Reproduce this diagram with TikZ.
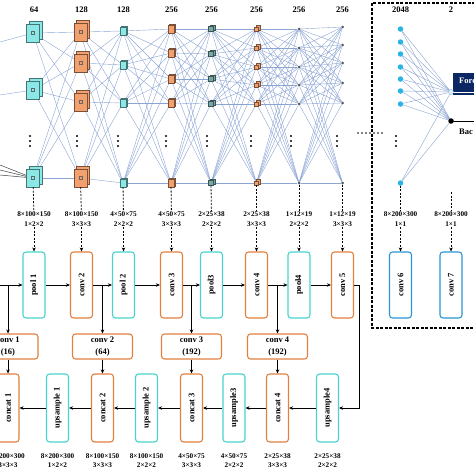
\documentclass[tikz,border=0pt]{standalone}
\usepackage{fontspec}
\setmainfont{Liberation Serif}
\usetikzlibrary{
    calc,
    positioning,
    shadows,
    arrows.meta,
    backgrounds,
}

\definecolor{boxorange}{RGB}{226,128,62}
\definecolor{boxcyan}{RGB}{72,212,206}
\definecolor{boxblue}{RGB}{40,150,212}
\definecolor{cubecyan}{RGB}{138,232,230}
\definecolor{cubeorange}{RGB}{242,160,110}
\definecolor{cubeteal}{RGB}{120,168,168}
\definecolor{linkblue}{RGB}{140,164,212}
\definecolor{dotblue}{RGB}{40,180,230}
\definecolor{dotgray}{RGB}{85,90,95}
\definecolor{navy}{RGB}{12,40,100}

\tikzset{
    cube/.style={draw=#1!50!black, fill=#1, line width=0.3pt, inner sep=0pt,
        copy shadow={shadow xshift=2.5pt, shadow yshift=2.5pt}},
    minicube/.style={draw=#1!50!black, fill=#1, line width=0.3pt, inner sep=0pt,
        copy shadow={shadow xshift=1.2pt, shadow yshift=1.2pt}},
    cubemark/.style={path picture={\draw[line width=0.2pt, draw=black!60]
        ([shift={(-1.5pt,-1.5pt)}]path picture bounding box.center) rectangle
        ([shift={(1.5pt,1.5pt)}]path picture bounding box.center);}},
    unit/.style={circle, fill=#1, inner sep=0pt},
    link/.style={draw=linkblue, line width=0.4pt},
    arr/.style={draw=black, line width=0.8pt, -{Stealth[length=4pt,width=3.5pt]}},
    dasharr/.style={draw=black, line width=0.8pt, dash pattern=on 2pt off 1.5pt,
        -{Stealth[length=4pt,width=3.5pt]}},
    dashln/.style={draw=black, line width=0.8pt, dash pattern=on 2pt off 1.5pt},
    netbox/.style={draw=#1, line width=1.1pt, rounded corners=3pt, fill=white,
        rotate=90, minimum width=66pt, minimum height=22pt, inner sep=0pt,
        font=\fontsize{8.5}{10}\selectfont\bfseries},
    convbox/.style={draw=boxorange, line width=1.1pt, rounded corners=3pt, fill=white,
        minimum width=60pt, minimum height=25pt, inner sep=0pt, align=center,
        font=\fontsize{8.5}{11.5}\selectfont\bfseries},
    dimlab/.style={align=center, inner sep=1pt, font=\fontsize{7.2}{9.3}\selectfont\bfseries},
    head/.style={inner sep=0pt, font=\fontsize{8.5}{10}\selectfont\bfseries},
}

\begin{document}
\begin{tikzpicture}[x=1pt, y=-1pt]
    \useasboundingbox (0,0) rectangle (474,474);
    \clip (0,0) rectangle (474,474);

    % channel numbers
    \node[head] (h1) at (34,10) {64};
    \node[head] (h2) at (81.5,10) {128};
    \node[head] (h3) at (123.5,10) {128};
    \node[head] (h4) at (171.5,10) {256};
    \node[head] (h5) at (211.5,10) {256};
    \node[head] (h6) at (256.5,10) {256};
    \node[head] (h7) at (299,10) {256};
    \node[head] (h8) at (342.5,10) {256};
    \node[head] (h9) at (400.5,10) {2048};
    \node[head] (h10) at (451,10) {2};

    % feature maps
    \foreach \y [count=\i] in {33,90,178}
        \node[cube=cubecyan, cubemark, minimum width=13pt, minimum height=18pt] (a\i) at (33,\y) {};
    \foreach \y [count=\i] in {32,63,102,178}
        \node[cube=cubeorange, cubemark, minimum width=13pt, minimum height=18pt] (b\i) at (80.5,\y) {};
    \foreach \y [count=\i] in {31,65,103,183}
        \node[minicube=cubecyan, minimum width=6pt, minimum height=8pt] (c\i) at (123,\y) {};
    \foreach \y [count=\i] in {29,53,79,103,183}
        \node[minicube=cubeorange, minimum width=6pt, minimum height=8pt] (d\i) at (171,\y) {};
    \foreach \y [count=\i] in {29,54,79,104,183}
        \node[minicube=cubeteal, minimum width=5pt, minimum height=5pt] (e\i) at (211,\y) {};
    \foreach \y [count=\i] in {29,48,67,85,104,183}
        \node[minicube=cubeorange, minimum width=4pt, minimum height=4.5pt] (f\i) at (256.5,\y) {};
    \foreach \y [count=\i] in {29,48,67,85,104,183}
        \node[unit=dotgray, minimum size=3pt] (g\i) at (299,\y) {};
    \foreach \y [count=\i] in {27,45,63,83,103,183}
        \node[unit=dotgray, minimum size=3pt] (h\i) at (342.5,\y) {};
    \foreach \y [count=\i] in {29,42,54,67,79,91,104,183}
        \node[unit=dotblue, minimum size=5.5pt] (k\i) at (400.5,\y) {};

    % output
    \node[fill=navy, minimum width=30pt, minimum height=22pt, inner sep=0pt, anchor=west] (fore) at (453,84) {};
    \node[head, anchor=west, text=white] (foretxt) at (459,81) {Fore};
    \coordinate (foreend) at (480,92);
    \coordinate (backend) at (480,121);
    \draw[white, line width=0.8pt] (451,92) -- (foreend);
    \draw[black, line width=0.9pt] (451,121) -- (backend);
    \node[unit=cyan!15, draw=linkblue, line width=0.3pt, minimum size=5pt] (outF) at (451,92) {};
    \node[unit=black, minimum size=5.5pt] (outB) at (451,121) {};
    \node[head, anchor=west] (backtxt) at (459,132) {Bac};

    % inputs
    \coordinate (in1) at (0,42);
    \coordinate (in2) at (0,95);
    \coordinate (in3) at (0,165);
    \coordinate (in4) at (0,170);
    \coordinate (in5) at (0,175);

    \begin{scope}[on background layer]
        \draw[link] (in1) -- (a1);
        \draw[link] (in2) -- (a2);
        \foreach \s in {in3,in4,in5}
            \draw[black!75, line width=0.5pt] (\s) -- (a3);
        \foreach \i in {1,...,3} \foreach \j in {1,...,4} \draw[link] (a\i) -- (b\j);
        \foreach \i in {1,...,4} \foreach \j in {1,...,4} \draw[link] (b\i) -- (c\j);
        \foreach \i in {1,...,4} \foreach \j in {1,...,5} \draw[link] (c\i) -- (d\j);
        \foreach \i in {1,...,5} \foreach \j in {1,...,5} \draw[link] (d\i) -- (e\j);
        \foreach \i in {1,...,5} \foreach \j in {1,...,6} \draw[link] (e\i) -- (f\j);
        \foreach \i in {1,...,6} \foreach \j in {1,...,6} \draw[link] (f\i) -- (g\j);
        \foreach \i in {1,...,6} \foreach \j in {1,...,6} \draw[link] (g\i) -- (h\j);
        \foreach \i in {1,...,8} \foreach \j in {outF,outB} \draw[link] (k\i) -- (\j);
    \end{scope}

    % ellipses
    \foreach \x in {30,77,118,166,207,251,291,337,396}
        \foreach \y in {136,141,146}
            \fill (\x,\y) circle (1.2pt);
    \foreach \x in {358,362,...,382}
        \fill (\x,133) circle (0.8pt);

    % head frame
    \draw[line width=1.2pt, dash pattern=on 3pt off 1.5pt] (372,3) rectangle (490,328);

    % sizes under the network
    \node[dimlab] (la0) at (-17,214) {8×200×300};
    \node[dimlab] (la1) at (34,219) {8×100×150\\1×2×2};
    \node[dimlab] (la2) at (81.5,219) {8×100×150\\3×3×3};
    \node[dimlab] (la3) at (123.5,219) {4×50×75\\2×2×2};
    \node[dimlab] (la4) at (171.5,219) {4×50×75\\3×3×3};
    \node[dimlab] (la5) at (211.5,219) {2×25×38\\2×2×2};
    \node[dimlab] (la6) at (256.5,219) {2×25×38\\3×3×3};
    \node[dimlab] (la7) at (299,219) {1×12×19\\2×2×2};
    \node[dimlab] (la8) at (342.5,219) {1×12×19\\3×3×3};
    \node[dimlab] (la9) at (400.5,219) {8×200×300\\1×1};
    \node[dimlab] (la10) at (451,219) {8×200×300\\1×1};

    % encoder
    \node[netbox=boxcyan] (pool1) at (34,285) {pool 1};
    \node[netbox=boxorange] (conv2) at (81.5,285) {conv 2};
    \node[netbox=boxcyan] (pool2) at (123.5,285) {pool 2};
    \node[netbox=boxorange] (conv3) at (171.5,285) {conv 3};
    \node[netbox=boxcyan] (pool3) at (211.5,285) {pool3};
    \node[netbox=boxorange] (conv4) at (256.5,285) {conv 4};
    \node[netbox=boxcyan] (pool4) at (299,285) {pool4};
    \node[netbox=boxorange] (conv5) at (342.5,285) {conv 5};
    \node[netbox=boxblue] (conv6) at (400.5,285) {conv 6};
    \node[netbox=boxblue] (conv7) at (451,285) {conv 7};

    \draw[dashln] (a3) -- (la1);
    \draw[dashln] (b4) -- (la2);
    \draw[dashln] (c4) -- (la3);
    \draw[dashln] (d5) -- (la4);
    \draw[dashln] (e5) -- (la5);
    \draw[dashln] (f6) -- (la6);
    \draw[dashln] (g6) -- (la7);
    \draw[dashln] (h6) -- (la8);
    \draw[dashln] (k8) -- (la9);
    \coordinate (outdash) at (451,192);
    \draw[dashln] (outdash) -- (la10);

    \draw[dasharr] (la1) -- (pool1);
    \draw[dasharr] (la2) -- (conv2);
    \draw[dasharr] (la3) -- (pool2);
    \draw[dasharr] (la4) -- (conv3);
    \draw[dasharr] (la5) -- (pool3);
    \draw[dasharr] (la6) -- (conv4);
    \draw[dasharr] (la7) -- (pool4);
    \draw[dasharr] (la8) -- (conv5);
    \draw[dasharr] (la9) -- (conv6);
    \draw[dasharr] (la10) -- (conv7);

    \coordinate (in0) at (0,285);
    \draw[arr] (in0) -- (pool1);
    \draw[arr] (pool1) -- (conv2);
    \draw[arr] (conv2) -- (pool2);
    \draw[arr] (pool2) -- (conv3);
    \draw[arr] (conv3) -- (pool3);
    \draw[arr] (pool3) -- (conv4);
    \draw[arr] (conv4) -- (pool4);
    \draw[arr] (pool4) -- (conv5);

    % skip branches
    \node[convbox] (sk1) at (8,346.5) {conv 1\\(16)};
    \node[convbox] (sk2) at (102.5,346.5) {conv 2\\(64)};
    \node[convbox] (sk3) at (191.5,346.5) {conv 3\\(192)};
    \node[convbox] (sk4) at (277.5,346.5) {conv 4\\(192)};

    \coordinate (br1) at (8,285);
    \coordinate (br2) at (102.5,285);
    \coordinate (br3) at (191.5,285);
    \coordinate (br4) at (277.5,285);
    \draw[arr] (br1) -- (sk1);
    \draw[arr] (br2) -- (sk2);
    \draw[arr] (br3) -- (sk3);
    \draw[arr] (br4) -- (sk4);

    % decoder
    \node[netbox=boxorange, minimum width=68pt] (concat1) at (8,408) {concat 1};
    \node[netbox=boxcyan, minimum width=68pt] (up1) at (57.5,408) {upsample 1};
    \node[netbox=boxorange, minimum width=68pt] (concat2) at (102.5,408) {concat 2};
    \node[netbox=boxcyan, minimum width=68pt] (up2) at (146.5,408) {upsample 2};
    \node[netbox=boxorange, minimum width=68pt] (concat3) at (191.5,408) {concat 3};
    \node[netbox=boxcyan, minimum width=68pt] (up3) at (234,408) {upsample3};
    \node[netbox=boxorange, minimum width=68pt] (concat4) at (277.5,408) {concat 4};
    \node[netbox=boxcyan, minimum width=68pt] (up4) at (327.5,408) {upsample4};

    \draw[arr] (sk1) -- (concat1);
    \draw[arr] (sk2) -- (concat2);
    \draw[arr] (sk3) -- (concat3);
    \draw[arr] (sk4) -- (concat4);

    \coordinate (c5r) at (359,285);
    \coordinate (c5d) at (359,408);
    \draw[arr] (conv5) -- (c5r) -- (c5d) -- (up4);
    \draw[arr] (up4) -- (concat4);
    \draw[arr] (concat4) -- (up3);
    \draw[arr] (up3) -- (concat3);
    \draw[arr] (concat3) -- (up2);
    \draw[arr] (up2) -- (concat2);
    \draw[arr] (concat2) -- (up1);
    \draw[arr] (up1) -- (concat1);

    \node[dimlab] (lb1) at (8,460.5) {8×200×300\\3×3×3};
    \node[dimlab] (lb2) at (57.5,460.5) {8×200×300\\1×2×2};
    \node[dimlab] (lb3) at (102.5,460.5) {8×100×150\\3×3×3};
    \node[dimlab] (lb4) at (146.5,460.5) {8×100×150\\2×2×2};
    \node[dimlab] (lb5) at (191.5,460.5) {4×50×75\\3×3×3};
    \node[dimlab] (lb6) at (234,460.5) {4×50×75\\2×2×2};
    \node[dimlab] (lb7) at (277.5,460.5) {2×25×38\\3×3×3};
    \node[dimlab] (lb8) at (327.5,460.5) {2×25×38\\2×2×2};
\end{tikzpicture}
\end{document}
